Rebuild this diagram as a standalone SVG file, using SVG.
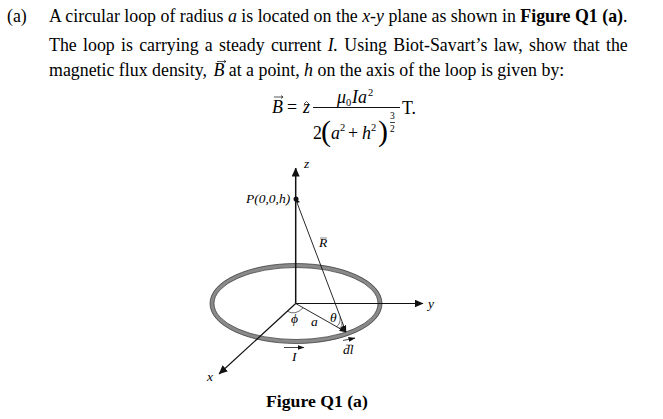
<svg xmlns="http://www.w3.org/2000/svg" width="663" height="419" viewBox="0 0 663 419">
<style>
text{font-family:"Liberation Serif","Times New Roman",serif;fill:#000}
.b{font-size:17.85px}
.m{font-size:13.500px;font-style:italic}
.s{font-size:10.500px}
.i{font-style:italic}
.bd{font-weight:bold}
.ax{stroke:#111;fill:none}
</style>
<defs>
<marker id="big" markerWidth="9" markerHeight="8" refX="8.500" refY="4" orient="auto" markerUnits="userSpaceOnUse"><path d="M0 0L9 4L0 8Z" fill="#111"/></marker>
<marker id="sm" markerWidth="7" markerHeight="5" refX="6.500" refY="2.500" orient="auto" markerUnits="userSpaceOnUse"><path d="M0 0L7 2.500L0 5Z" fill="#111"/></marker>
</defs>
<rect width="663" height="419" fill="#fff"/>
<g id="question">
<text class="b" x="7" y="22">(a)</text>
<text class="b" x="49" y="22">A circular loop of radius <tspan class="i">a</tspan> is located on the <tspan class="i">x-y</tspan> plane as shown in <tspan class="bd">Figure Q1 (a)</tspan>.</text>
<text class="b" x="49" y="51" word-spacing="1.800">The loop is carrying a steady current <tspan class="i">I.</tspan> Using Biot-Savart’s law, show that the</text>
<text class="b" x="49" y="76">magnetic flux density, <tspan class="i" dx="2">B</tspan> at a point, <tspan class="i">h</tspan> on the axis of the loop is given by:</text>
<path d="M217 61.500h9M224 60l2 1.500-2 1.500" stroke="#111" stroke-width=".7" fill="none"/>
</g>
<g id="formula">
<text class="b i" x="272" y="113">B</text>
<path d="M274 97h9M281 95.500l2 1.500-2 1.500" stroke="#111" stroke-width=".7" fill="none"/>
<text class="b" x="287" y="113">=</text>
<text class="b i" x="303" y="113">z</text>
<path d="M304 104l2.500-2.500 2.500 2.500" stroke="#111" stroke-width=".7" fill="none"/>
<rect x="313" y="107" width="87" height="1" fill="#111"/>
<text class="b i" x="337" y="103">μ</text>
<text class="s" x="346" y="106">0</text>
<text class="b i" x="352" y="103">Ia</text>
<text class="s" x="368" y="96">2</text>
<text class="b" x="313" y="139">2</text>
<text x="321" y="141" font-size="30">(</text>
<text class="b i" x="331" y="139">a</text>
<text class="s" x="340" y="131">2</text>
<text class="b" x="348" y="139">+</text>
<text class="b i" x="362" y="139">h</text>
<text class="s" x="371" y="131">2</text>
<text x="378" y="141" font-size="30">)</text>
<text x="390" y="119" font-size="9.500">3</text>
<rect x="390" y="122" width="5" height=".8" fill="#111"/>
<text x="390" y="132" font-size="9.500">2</text>
<text class="b" x="402" y="114">T.</text>
</g>
<g id="loop">
<ellipse cx="296" cy="303.500" rx="84" ry="38" fill="none" stroke="#8a8a8a" stroke-width="4"/>
<ellipse cx="296" cy="303.500" rx="86" ry="40" fill="none" stroke="#333" stroke-width=".7"/>
<ellipse cx="296" cy="303.500" rx="82" ry="36" fill="none" stroke="#333" stroke-width=".7"/>
</g>
<g id="connectors">
<line class="ax" x1="295.700" y1="303.500" x2="295.700" y2="168" stroke-width="1.500" marker-end="url(#big)"/>
<line class="ax" x1="295.700" y1="303.500" x2="423" y2="303.500" stroke-width="1.200" marker-end="url(#big)"/>
<line class="ax" x1="295.700" y1="303.500" x2="219" y2="374" stroke-width="1.200" marker-end="url(#big)"/>
<line class="ax" x1="295.700" y1="303.500" x2="346" y2="332" stroke-width=".9" marker-end="url(#sm)"/>
<line class="ax" x1="296" y1="200" x2="346" y2="332" stroke-width=".9" marker-end="url(#sm)"/>
<line class="ax" x1="284" y1="347.500" x2="304" y2="347.500" stroke-width=".8" marker-end="url(#sm)"/>
<line class="ax" x1="343" y1="340.500" x2="355" y2="338" stroke-width=".8" marker-end="url(#sm)"/>
<path class="ax" d="M287 311q8 5 16-3" stroke-width=".6"/>
<path class="ax" d="M340 317q1 7-4 10M342 322q1 4-3 7" stroke-width=".6"/>
</g>
<g id="point-P">
<circle cx="296" cy="199" r="2.500" fill="#111"/>
<path d="M296 199l4 3-3 1z" fill="#111"/>
<text class="m" x="246" y="203">P(0,0,h)</text>
</g>
<g id="labels">
<text class="m" x="304" y="168">z</text>
<text class="m" x="319" y="247">R</text>
<path d="M320 238h7" stroke="#111" stroke-width=".5"/>
<text class="m" x="428" y="308">y</text>
<text class="m" x="207" y="381">x</text>
<text class="m" x="291" y="323">ϕ</text>
<text class="m" x="311" y="326">a</text>
<text class="m" x="330" y="322">θ</text>
<text class="m" x="292" y="361">I</text>
<text class="m" x="343" y="354">dl</text>
<path d="M346 345h6" stroke="#111" stroke-width=".5"/>
</g>
<text class="bd" x="266" y="407" font-size="17.700">Figure Q1 (a)</text>
</svg>
